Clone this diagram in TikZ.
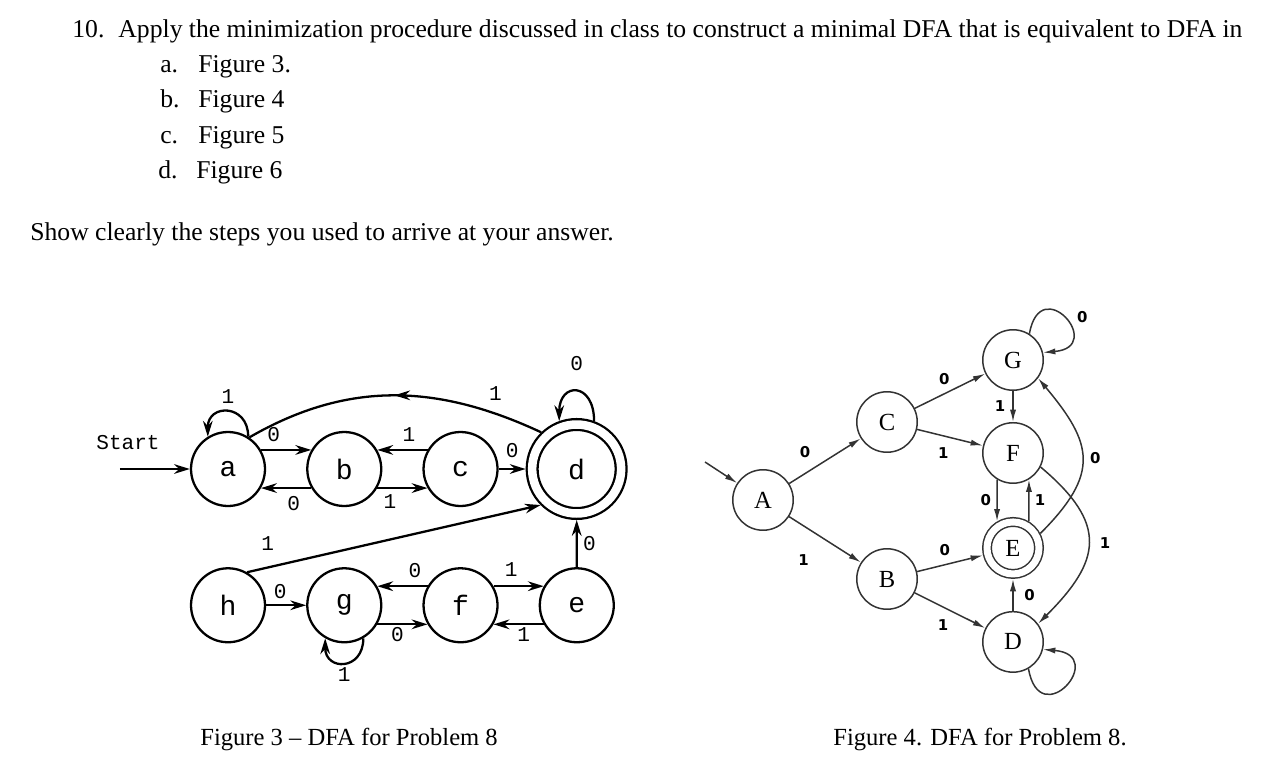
\documentclass[tikz,border=0pt]{standalone}
\usepackage{fontspec}
\setmainfont{Liberation Serif}
\setmonofont{Liberation Mono}
\newfontfamily\labelfont{DejaVu Sans}
\usetikzlibrary{positioning, arrows.meta, decorations.markings}

\begin{document}
\begin{tikzpicture}[x=0.02cm, y=-0.02cm, node distance=1.2cm and 0.8cm,
  state/.style={circle, draw, line width=1.3pt, minimum size=1.48cm, inner sep=0pt, font=\fontsize{16}{18}\ttfamily},
  final/.style={state, double, double distance=0.17cm, minimum size=1.78cm, outer sep=0.13cm},
  trans/.style={line width=1.3pt, -{Stealth[length=9pt, width=5.5pt]}},
  lbl/.style={font=\fontsize{12}{14}\ttfamily, inner sep=1pt},
  fstate/.style={circle, draw=black!80, line width=0.85pt, minimum size=1.21cm, inner sep=0pt, font=\fontsize{14}{16}\selectfont},
  ffinal/.style={fstate, double, double distance=0.14cm, minimum size=1.04cm, outer sep=0.1cm},
  ftrans/.style={draw=black!80, line width=0.85pt, -{Latex[length=7pt, width=3.5pt]}},
  flbl/.style={font=\labelfont\bfseries\fontsize{8.5}{10}\selectfont, inner sep=1pt},
  body/.style={anchor=base west, inner sep=0pt, font=\fontsize{14.6}{17}\selectfont}]
  \useasboundingbox (0,0) rectangle (1275,761);

  % question text
  \node[body] (question) at (72,37) {10.\hspace{8pt}Apply the minimization procedure discussed in class to construct a minimal DFA that is equivalent to DFA in};
  \node[body] (itema) at (160,72) {\makebox[0.76cm][l]{a.}Figure 3.};
  \node[body] (itemb) at (160,107) {\makebox[0.76cm][l]{b.}Figure 4};
  \node[body] (itemc) at (160,143) {\makebox[0.76cm][l]{c.}Figure 5};
  \node[body] (itemd) at (158,178) {\makebox[0.76cm][l]{d.}Figure 6};
  \node[body] (show) at (30,240) {Show clearly the steps you used to arrive at your answer.};

  % Figure 3
  \node[state] (a) at (228,469) {a};
  \node[state] (b) [right=of a] {b};
  \node[state] (c) [right=of b] {c};
  \node[final] (d) [right=0.54cm of c] {d};
  \node[state] (h) [below=of a] {h};
  \node[state] (g) [right=of h] {g};
  \node[state] (f) [right=of g] {f};
  \node[state] (e) [right=of f] {e};
  \node[lbl] (start) at (128,443) {Start};
  \coordinate[left=1.4cm of a] (s3);

  \draw[trans] (s3) -- (a);
  \draw[trans] (a.58) to[out=90, in=90, looseness=2.1] node[lbl, above=3pt] {1} (a.122);
  \draw[trans] (a.30) -- node[lbl, pos=0.25, above=3pt] {0} (b.150);
  \draw[trans] (b.210) -- node[lbl, pos=0.35, below=3pt] {0} (a.330);
  \draw[trans] (c.150) -- node[lbl, pos=0.37, above=3pt] {1} (b.30);
  \draw[trans] (b.330) -- node[lbl, pos=0.25, below=2pt] {1} (c.210);
  \draw[trans] (c) -- node[lbl, above=5pt] {0} (d);
  \draw[trans] (d.70) to[out=90, in=90, looseness=2.9] node[lbl, above=10pt] {0} (d.110);
  \draw[line width=1.3pt, postaction={decorate},
    decoration={markings, mark=at position 0.5 with {\arrow{Stealth[length=9pt, width=5.5pt]}}}]
    (d.134) to[out=155, in=30] node[lbl, pos=0.15, above=6pt] {1} (a.56);
  \draw[trans] (h.60) -- node[lbl, pos=0.07, above=8pt] {1} (d.225);
  \draw[trans] (h) -- node[lbl, pos=0.35, above=2pt] {0} (g);
  \draw[trans] (f.150) -- node[lbl, pos=0.25, above=3pt] {0} (g.30);
  \draw[trans] (g.330) -- node[lbl, pos=0.4, below] {0} (f.210);
  \draw[trans] (f.30) -- node[lbl, pos=0.35, above=4pt] {1} (e.150);
  \draw[trans] (e.210) -- node[lbl, pos=0.4, below] {1} (f.330);
  \draw[trans] (e) -- node[lbl, right=2pt] {0} (d);
  \draw[trans] (g.-60) to[out=-90, in=-90, looseness=2.2] node[lbl, below=1pt] {1} (g.-120);

  % Figure 4
  \node[fstate] (A) at (763,500) {A};
  \node[fstate] (C) at (887,422) {C};
  \node[fstate] (B) at (887,579) {B};
  \node[fstate] (G) at (1013,360) {G};
  \node[fstate] (F) [below=0.62cm of G] {F};
  \node[ffinal] (E) [below=0.66cm of F] {E};
  \node[fstate] (D) [below=0.64cm of E] {D};
  \coordinate (s4) at (705,462);

  \draw[ftrans] (s4) -- (A);
  \draw[ftrans] (A) -- node[flbl, pos=0.4, above left=4pt] {0} (C);
  \draw[ftrans] (A) -- node[flbl, pos=0.2, below=15pt] {1} (B);
  \draw[ftrans] (C) -- node[flbl, pos=0.42, above=4pt] {0} (G);
  \draw[ftrans] (C) -- node[flbl, pos=0.4, below=5pt] {1} (F);
  \draw[ftrans] (B) -- node[flbl, pos=0.42, above=4pt] {0} (E);
  \draw[ftrans] (B) -- node[flbl, pos=0.4, below=6pt] {1} (D);
  \draw[ftrans] (G) -- node[flbl, left=3pt] {1} (F);
  \draw[ftrans] (F.239) -- node[flbl, left=2pt] {0} (E.121);
  \draw[ftrans] (E.59) -- node[flbl, right=2pt] {1} (F.301);
  \draw[ftrans] (D) -- node[flbl, right=5pt] {0} (E);
  \draw[ftrans] (E.28) to[out=45, in=-50, looseness=1.4] node[flbl, right=3pt] {0} (G.-36);
  \draw[ftrans] (F.-27) to[out=-40, in=45, looseness=1.45] node[flbl, right=5pt] {1} (D.36);
  \draw[ftrans] (G.58) to[out=80, in=5, looseness=7] node[flbl, right=6pt] {0} (G.14);
  \draw[ftrans] (D.-60) to[out=-80, in=-5, looseness=7] (D.-14);

  % captions
  \node[body, font=\fontsize{14}{17}\selectfont] (cap3) at (200,745) {Figure 3 – DFA for Problem 8};
  \node[body, font=\fontsize{14}{17}\selectfont] (cap4) at (833,745) {Figure 4. DFA for Problem 8.};
\end{tikzpicture}
\end{document}
